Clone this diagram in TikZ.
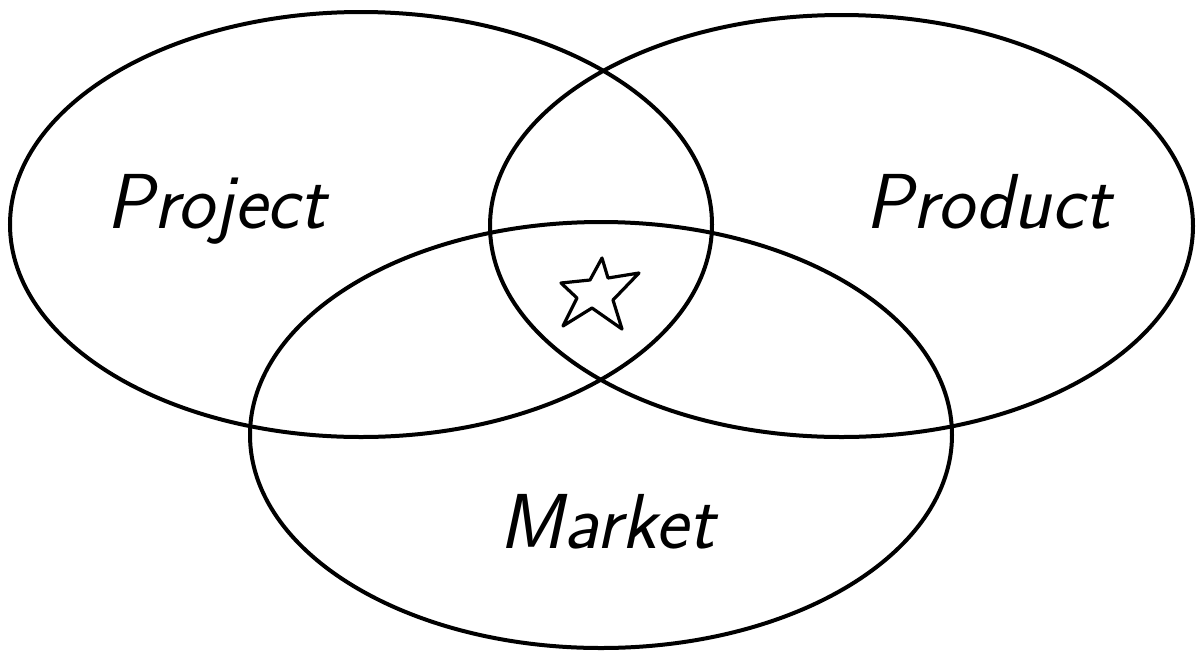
\documentclass[tikz,border=0pt]{standalone}
\usetikzlibrary{shapes.geometric}
\begin{document}
\begin{tikzpicture}[x=1pt,y=-1pt,
  venn/.style={ellipse, draw, line width=4pt, inner sep=0pt},
  lbl/.style={font=\fontsize{78}{84}\selectfont\sffamily\slshape, inner sep=0pt, anchor=base},
  starline/.style={line width=3.2pt, line join=round, line cap=round}]
\useasboundingbox (0,0) rectangle (1200,657);
\fill[white] (0,0) rectangle (1200,657);
\node[venn, minimum width=702pt, minimum height=425pt] (project) at (361,224.5) {};
\node[venn, minimum width=703pt, minimum height=422pt] (product) at (841.5,226) {};
\node[venn, minimum width=702pt, minimum height=426pt] (market) at (601,435) {};
\node[lbl] (tproject) at (216,228) {Project};
\node[lbl] (tproduct) at (988,228) {Product};
\node[lbl] (tmarket) at (607,548) {Market};
\draw[starline] (602,258) -- (608,278) -- (639,273) -- (613,300) -- (622,329)
  -- (592,308) -- (563,326) -- (577,298) -- (561,283) -- (590,280) -- cycle;
\end{tikzpicture}
\end{document}
